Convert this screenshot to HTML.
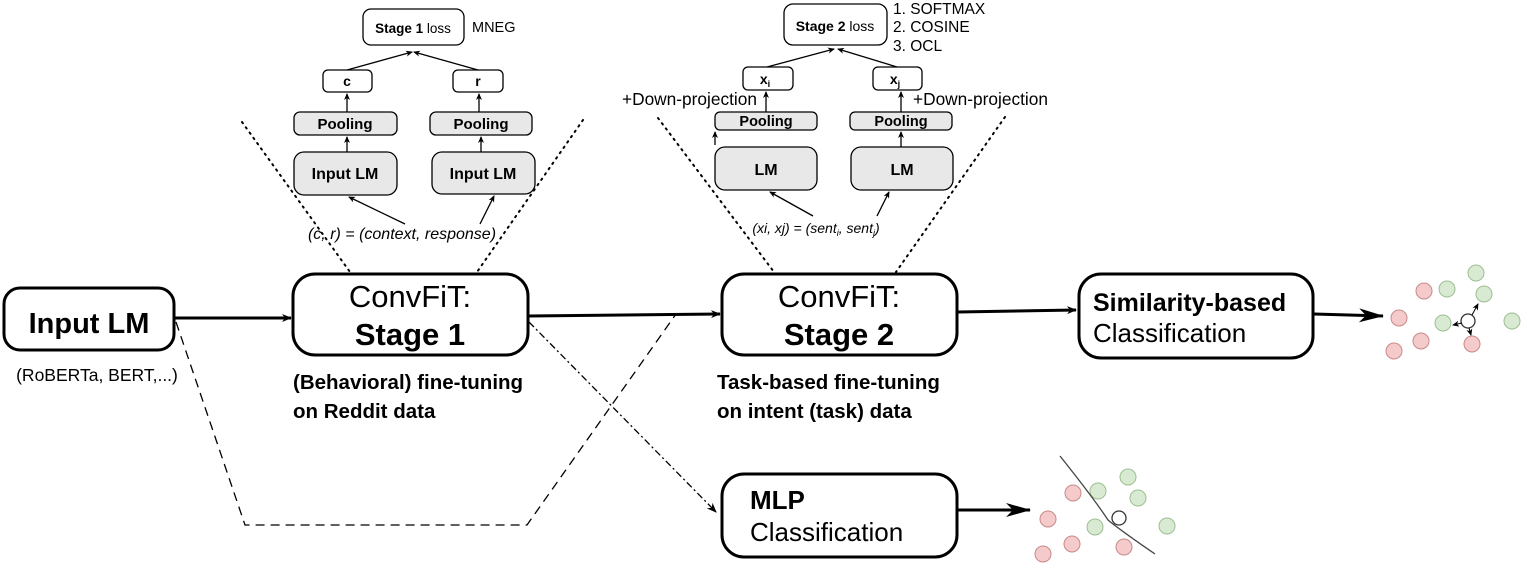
<!DOCTYPE html>
<html><head><meta charset="utf-8"><style>
html,body{margin:0;padding:0;background:#fff;}
svg{display:block;font-family:"Liberation Sans",sans-serif;}
</style></head><body>
<svg width="1534" height="578" viewBox="0 0 1534 578" xmlns="http://www.w3.org/2000/svg">
<defs>
<marker id="ab" markerWidth="10" markerHeight="8" refX="9" refY="4" orient="auto" markerUnits="userSpaceOnUse"><path d="M0,0 L10,4 L0,8 L3,4 z" fill="#000"/></marker>
<marker id="abig" markerWidth="26" markerHeight="14" refX="24" refY="7" orient="auto" markerUnits="userSpaceOnUse"><path d="M0,0 L25,7 L0,14 L7,7 z" fill="#000"/></marker>
<marker id="as" markerWidth="7" markerHeight="6" refX="6" refY="3" orient="auto" markerUnits="userSpaceOnUse"><path d="M0,0 L7,3 L0,6 L2,3 z" fill="#000"/></marker>
</defs>
<g stroke="#000" stroke-width="2" stroke-dasharray="1.5,5" fill="none" stroke-linecap="round">
<line x1="242" y1="122" x2="350" y2="272"/><line x1="583" y1="120" x2="477" y2="272"/>
<line x1="658" y1="118" x2="774" y2="272"/><line x1="1005" y1="117" x2="896" y2="272"/>
</g>
<g stroke="#000" stroke-width="1.3" fill="none">
<polyline points="176,322 245,525 527,525 676,314" stroke-dasharray="9,6"/>
<line x1="529" y1="322" x2="716" y2="512" stroke-dasharray="7,3,2,3" marker-end="url(#ab)"/>
</g>
<g stroke="#000" stroke-width="3" fill="none">
<line x1="175" y1="318" x2="291" y2="318" marker-end="url(#ab)"/>
<line x1="529" y1="316" x2="720" y2="314" marker-end="url(#ab)"/>
<line x1="958" y1="312" x2="1076" y2="310" marker-end="url(#ab)"/>
<line x1="1314" y1="314" x2="1383" y2="316" marker-end="url(#abig)"/>
<line x1="958" y1="510" x2="1030" y2="510" marker-end="url(#abig)"/>
</g>
<g stroke="#000" stroke-width="3" fill="#fff">
<rect x="4" y="288" width="170" height="62" rx="16"/>
<rect x="293" y="274" width="235" height="81" rx="22"/>
<rect x="722" y="274" width="235" height="81" rx="22"/>
<rect x="1079" y="274" width="234" height="84" rx="22"/>
<rect x="722" y="474" width="235" height="83" rx="22"/>
</g>
<text x="89" y="333" font-size="29" font-weight="bold" text-anchor="middle">Input LM</text>
<text x="97" y="381" font-size="17.5" text-anchor="middle">(RoBERTa, BERT,...)</text>
<text x="410" y="307" font-size="31" text-anchor="middle">ConvFiT:</text>
<text x="410" y="345" font-size="31" font-weight="bold" text-anchor="middle">Stage 1</text>
<text x="839" y="307" font-size="31" text-anchor="middle">ConvFiT:</text>
<text x="839" y="345" font-size="31" font-weight="bold" text-anchor="middle">Stage 2</text>
<text x="293" y="389" font-size="20.5" font-weight="bold">(Behavioral) fine-tuning</text>
<text x="293" y="418" font-size="20.5" font-weight="bold">on Reddit data</text>
<text x="717" y="389" font-size="20.5" font-weight="bold">Task-based fine-tuning</text>
<text x="717" y="418" font-size="20.5" font-weight="bold">on intent (task) data</text>
<text x="1093" y="311" font-size="25" font-weight="bold">Similarity-based</text>
<text x="1093" y="342" font-size="26">Classification</text>
<text x="750" y="509" font-size="26" font-weight="bold">MLP</text>
<text x="750" y="541" font-size="26">Classification</text>
<!-- stage1 detail -->
<g stroke="#000" stroke-width="1.3">
<rect x="363" y="9" width="101" height="36" rx="8" fill="#fff"/>
<rect x="323" y="70" width="49" height="22" rx="5" fill="#fff"/>
<rect x="453" y="70" width="50" height="22" rx="5" fill="#fff"/>
<rect x="294" y="112" width="103" height="23" rx="6" fill="#e8e8e8"/>
<rect x="430" y="112" width="102" height="23" rx="6" fill="#e8e8e8"/>
<rect x="294" y="152" width="103" height="43" rx="10" fill="#e8e8e8"/>
<rect x="432" y="152" width="103" height="42" rx="10" fill="#e8e8e8"/>
<line x1="347" y1="70" x2="412" y2="52" marker-end="url(#as)"/>
<line x1="478" y1="70" x2="414" y2="52" marker-end="url(#as)"/>
<line x1="347" y1="112" x2="347" y2="94" marker-end="url(#as)"/>
<line x1="479" y1="112" x2="479" y2="94" marker-end="url(#as)"/>
<line x1="347" y1="152" x2="347" y2="137" marker-end="url(#as)"/>
<line x1="481" y1="152" x2="481" y2="137" marker-end="url(#as)"/>
<line x1="405" y1="224" x2="349" y2="197" marker-end="url(#as)"/>
<line x1="480" y1="224" x2="494" y2="196" marker-end="url(#as)"/>
</g>
<text x="413" y="33" font-size="13.5" text-anchor="middle"><tspan font-weight="bold">Stage 1</tspan> loss</text>
<text x="472" y="32" font-size="14.5">MNEG</text>
<text x="347" y="86" font-size="14" font-weight="bold" text-anchor="middle">c</text>
<text x="478" y="86" font-size="14" font-weight="bold" text-anchor="middle">r</text>
<text x="345" y="129" font-size="15" font-weight="bold" text-anchor="middle">Pooling</text>
<text x="481" y="129" font-size="15" font-weight="bold" text-anchor="middle">Pooling</text>
<text x="345" y="179" font-size="16" font-weight="bold" text-anchor="middle">Input LM</text>
<text x="483" y="179" font-size="16" font-weight="bold" text-anchor="middle">Input LM</text>
<text x="402" y="239" font-size="16" font-style="italic" text-anchor="middle">(c, r) = (context, response)</text>
<!-- stage2 detail -->
<g stroke="#000" stroke-width="1.3">
<rect x="784" y="4" width="103" height="41" rx="9" fill="#fff"/>
<rect x="743" y="67" width="50" height="23" rx="5" fill="#fff"/>
<rect x="873" y="67" width="49" height="23" rx="5" fill="#fff"/>
<rect x="715" y="112" width="102" height="18" rx="5" fill="#e8e8e8"/>
<rect x="850" y="112" width="102" height="18" rx="5" fill="#e8e8e8"/>
<rect x="715" y="147" width="102" height="43" rx="10" fill="#e8e8e8"/>
<rect x="851" y="147" width="102" height="43" rx="10" fill="#e8e8e8"/>
<line x1="767" y1="67" x2="834" y2="49" marker-end="url(#as)"/>
<line x1="897" y1="67" x2="838" y2="49" marker-end="url(#as)"/>
<line x1="766" y1="112" x2="766" y2="92" marker-end="url(#as)"/>
<line x1="901" y1="112" x2="901" y2="92" marker-end="url(#as)"/>
<line x1="715" y1="145" x2="715" y2="132" marker-end="url(#as)"/>
<line x1="901" y1="147" x2="901" y2="132" marker-end="url(#as)"/>
<line x1="813" y1="216" x2="770" y2="192" marker-end="url(#as)"/>
<line x1="877" y1="216" x2="889" y2="192" marker-end="url(#as)"/>
</g>
<text x="835" y="31" font-size="14" text-anchor="middle"><tspan font-weight="bold">Stage 2</tspan> loss</text>
<text x="893" y="14" font-size="15.5">1. SOFTMAX</text>
<text x="893" y="32" font-size="15.5">2. COSINE</text>
<text x="893" y="51" font-size="15.5">3. OCL</text>
<text x="765" y="84" font-size="14" font-weight="bold" text-anchor="middle">x<tspan font-size="9" dy="3">i</tspan></text>
<text x="895" y="84" font-size="14" font-weight="bold" text-anchor="middle">x<tspan font-size="9" dy="3">j</tspan></text>
<text x="622" y="105" font-size="17.3">+Down-projection</text>
<text x="913" y="105" font-size="17.3">+Down-projection</text>
<text x="766" y="126" font-size="14.5" font-weight="bold" text-anchor="middle">Pooling</text>
<text x="901" y="126" font-size="14.5" font-weight="bold" text-anchor="middle">Pooling</text>
<text x="766" y="175" font-size="16" font-weight="bold" text-anchor="middle">LM</text>
<text x="902" y="175" font-size="16" font-weight="bold" text-anchor="middle">LM</text>
<text x="816" y="233" font-size="14" font-style="italic" text-anchor="middle">(xi, xj) = (sent<tspan font-size="9" dy="3">i</tspan><tspan dy="-3">, sent</tspan><tspan font-size="9" dy="3">j</tspan><tspan dy="-3">)</tspan></text>
<!-- circles -->
<g stroke-width="1">
<g fill="#f4caca" stroke="#c98a8a">
<circle cx="1424" cy="291" r="8"/><circle cx="1399" cy="318" r="8"/><circle cx="1421" cy="341" r="8"/><circle cx="1394" cy="351" r="8"/><circle cx="1472" cy="344" r="8"/>
<circle cx="1073" cy="493" r="8"/><circle cx="1048" cy="519" r="8"/><circle cx="1072" cy="544" r="8"/><circle cx="1043" cy="554" r="8"/><circle cx="1124" cy="547" r="8"/>
</g>
<g fill="#d8ead2" stroke="#9dbf92">
<circle cx="1447" cy="289" r="8"/><circle cx="1476" cy="273" r="8"/><circle cx="1484" cy="294" r="8"/><circle cx="1443" cy="323" r="8"/><circle cx="1512" cy="321" r="8"/>
<circle cx="1098" cy="491" r="8"/><circle cx="1128" cy="477" r="8"/><circle cx="1138" cy="498" r="8"/><circle cx="1095" cy="527" r="8"/><circle cx="1167" cy="526" r="8"/>
</g>
<g fill="#fff" stroke="#333" stroke-width="1.3">
<circle cx="1468" cy="321" r="7"/><circle cx="1119" cy="518" r="7"/>
</g>
</g>
<g stroke="#000" stroke-width="1">
<line x1="1472" y1="315" x2="1478" y2="304" marker-end="url(#as)"/>
<line x1="1462" y1="323" x2="1453" y2="325" marker-end="url(#as)"/>
<line x1="1469" y1="328" x2="1471" y2="335" marker-end="url(#as)"/>
</g>
<path d="M1060,456 Q1095,500 1108,520 Q1120,530 1155,554" stroke="#444" stroke-width="1.3" fill="none"/>
</svg>
</body></html>
